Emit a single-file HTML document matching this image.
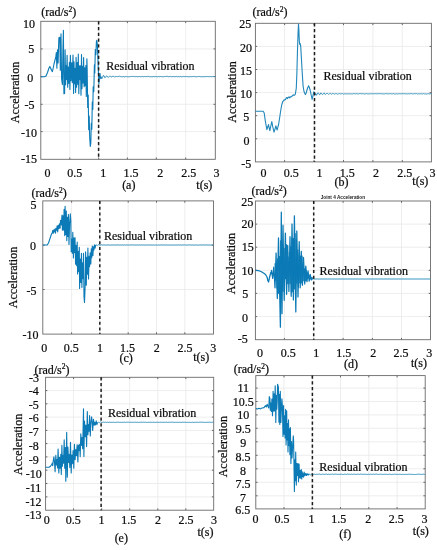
<!DOCTYPE html>
<html lang="en">
<head>
<meta charset="utf-8">
<title>Acceleration and residual vibration</title>
<style>
html, body { margin: 0; padding: 0; background: #fff; }
body { width: 437px; height: 550px; overflow: hidden; font-family: "Liberation Serif", serif; }
svg { display: block; }
</style>
</head>
<body>
<svg width="437" height="550" viewBox="0 0 437 550" font-family="'Liberation Serif', serif" fill="#0c0c0c" stroke="#0c0c0c" stroke-width="0.22">
<rect width="437" height="550" fill="#fff" stroke="none"/>
<g>
<path d="M69.8 21.3 V159.3M98.7 21.3 V159.3M127.4 21.3 V159.3M156.3 21.3 V159.3M185.7 21.3 V159.3M40.8 48.9 H215.3M40.8 76.6 H215.3M40.8 104.3 H215.3M40.8 131.6 H215.3" stroke="#e8e8e8" stroke-width="0.8" fill="none"/>
<path d="M69.8 159.3 v-1.8 M69.8 21.3 v1.8M98.7 159.3 v-1.8 M98.7 21.3 v1.8M127.4 159.3 v-1.8 M127.4 21.3 v1.8M156.3 159.3 v-1.8 M156.3 21.3 v1.8M185.7 159.3 v-1.8 M185.7 21.3 v1.8M40.8 48.9 h1.8 M215.3 48.9 h-1.8M40.8 76.6 h1.8 M215.3 76.6 h-1.8M40.8 104.3 h1.8 M215.3 104.3 h-1.8M40.8 131.6 h1.8 M215.3 131.6 h-1.8" stroke="#444" stroke-width="0.8" fill="none"/>
<rect x="40.8" y="21.3" width="174.5" height="138.0" fill="none" stroke="#6a6a6a" stroke-width="0.9"/>
<path d="M40.8 76.8 L44.5 76.8 L46.0 76.0 L47.5 72.5 L49.0 68.0 L49.8 66.4 L50.6 68.0 L51.6 70.5 L52.4 71.6 L53.2 68.0 L54.0 64.0 L55.0 60.0 L55.8 57.2 L56.3 52.6 L56.9 68.3 L57.5 49.8 L58.1 63.0 L58.6 45.6 L58.9 37.8 L59.8 37.3 L60.3 70.2 L60.8 43.0 L61.0 33.9 L61.6 79.0 L62.4 84.6 L62.9 51.3 L63.4 30.3 L63.9 93.8 L64.6 93.5 L65.1 49.7 L65.6 84.7 L66.1 65.5 L66.6 79.4 L67.1 55.2 L67.7 87.2 L68.2 67.0 L68.8 83.3 L69.4 62.3 L69.9 89.5 L70.4 55.4 L71.0 80.8 L71.7 62.8 L72.3 82.6 L73.0 55.1 L73.6 93.4 L74.0 61.9 L74.5 83.6 L75.1 68.2 L75.6 92.4 L76.1 57.2 L76.6 87.3 L77.2 62.6 L77.9 84.4 L78.3 54.0 L78.8 93.7 L79.4 65.9 L79.9 79.5 L80.4 65.7 L81.0 95.3 L81.5 54.5 L82.0 88.6 L82.5 66.2 L83.1 82.9 L83.6 57.6 L84.1 86.7 L84.8 67.9 L85.2 85.8 L85.8 65.5 L86.3 96.5 L86.9 58.8 L87.2 70.7 L87.7 107.4 L88.2 95.1 L88.7 129.8 L89.2 116.0 L89.7 137.5 L90.3 146.4 L90.8 143.1 L91.3 123.4 L91.8 129.2 L92.3 102.1 L92.8 109.5 L93.2 86.8 L93.8 91.8 L94.4 64.9 L94.8 72.9 L95.3 49.5 L95.9 54.7 L96.4 41.6 L96.8 40.2 L97.3 44.0 L97.8 56.0 L98.4 72.0 L98.9 83.6 L99.4 78.0 L99.9 73.2 L100.5 77.5 L101.0 79.0" stroke="#0b7ab6" stroke-width="1.1" fill="none" stroke-linejoin="round"/>
<path d="M101.0 79.0 L101.2 76.7 L101.9 78.7 L102.6 77.4 L103.3 75.5 L104.0 75.7 L104.7 77.6 L105.4 77.5 L106.1 76.4 L106.8 75.8 L107.5 76.5 L108.2 77.5 L108.9 76.8 L109.6 76.1 L110.3 76.0 L111.0 76.8 L111.7 77.1 L112.4 76.4 L113.1 76.1 L113.8 76.4 L114.5 77.1 L115.2 76.9 L115.9 76.3 L116.6 76.5 L117.3 76.5 L118.0 76.9 L118.7 76.4 L119.4 76.2 L120.1 76.7 L120.8 76.5 L121.5 76.6 L122.2 76.8 L122.9 76.7 L123.6 76.5 L124.3 76.9 L125.0 76.6 L125.7 76.6 L126.4 76.4 L127.1 76.9 L127.8 76.7 L128.5 76.8 L129.2 76.8 L129.9 76.5 L130.6 76.6 L131.3 76.4 L132.0 76.4 L132.7 76.4 L133.4 76.5 L134.1 76.7 L134.8 76.4 L135.5 76.7 L136.2 76.5 L136.9 76.5 L137.6 76.8 L138.3 76.6 L139.0 76.5 L139.7 76.6 L140.4 76.7 L141.1 76.4 L141.8 76.8 L142.5 76.4 L143.2 76.7 L143.9 76.8 L144.6 76.4 L145.3 76.7 L146.0 76.5 L146.7 76.6 L147.4 76.4 L148.1 76.4 L148.8 76.4 L149.5 76.8 L150.2 76.5 L150.9 76.7 L151.6 76.8 L152.3 76.8 L153.0 76.5 L153.7 76.5 L154.4 76.6 L155.1 76.7 L155.8 76.4 L156.5 76.7 L157.2 76.7 L157.9 76.8 L158.6 76.4 L159.3 76.8 L160.0 76.4 L160.7 76.5 L161.4 76.7 L162.1 76.8 L162.8 76.5 L163.5 76.8 L164.2 76.6 L164.9 76.5 L165.6 76.5 L166.3 76.4 L167.0 76.4 L167.7 76.4 L168.4 76.7 L169.1 76.8 L169.8 76.4 L170.5 76.4 L171.2 76.8 L171.9 76.6 L172.6 76.6 L173.3 76.5 L174.0 76.6 L174.7 76.8 L175.4 76.6 L176.1 76.6 L176.8 76.4 L177.5 76.8 L178.2 76.4 L178.9 76.6 L179.6 76.8 L180.3 76.4 L181.0 76.7 L181.7 76.8 L182.4 76.7 L183.1 76.7 L183.8 76.4 L184.5 76.6 L185.2 76.4 L185.9 76.8 L186.6 76.5 L187.3 76.6 L188.0 76.8 L188.7 76.8 L189.4 76.8 L190.1 76.6 L190.8 76.6 L191.5 76.7 L192.2 76.6 L192.9 76.5 L193.6 76.6 L194.3 76.4 L195.0 76.5 L195.7 76.8 L196.4 76.8 L197.1 76.7 L197.8 76.6 L198.5 76.5 L199.2 76.4 L199.9 76.5 L200.6 76.7 L201.3 76.8 L202.0 76.5 L202.7 76.7 L203.4 76.7 L204.1 76.7 L204.8 76.7 L205.5 76.7 L206.2 76.5 L206.9 76.7 L207.6 76.5 L208.3 76.6 L209.0 76.7 L209.7 76.7 L210.4 76.5 L211.1 76.8 L211.8 76.7 L212.5 76.6 L213.2 76.4 L213.9 76.6 L214.6 76.5 L215.2 76.6" stroke="#2f8fbd" stroke-width="0.95" fill="none" stroke-linejoin="round"/>
<path d="M98.6 21.3 V159.3" stroke="#1c1c1c" stroke-width="1.5" stroke-dasharray="3.1 2.65" fill="none"/>
<text x="29.1" y="28.2" text-anchor="middle" font-size="12">10</text>
<text x="31.3" y="53.3" text-anchor="middle" font-size="12">5</text>
<text x="30.2" y="81.9" text-anchor="middle" font-size="12">0</text>
<text x="29.5" y="109.3" text-anchor="middle" font-size="12">-5</text>
<text x="29.0" y="136.7" text-anchor="middle" font-size="12">-10</text>
<text x="29.0" y="162.6" text-anchor="middle" font-size="12">-15</text>
<text x="47.4" y="176.5" text-anchor="middle" font-size="12">0</text>
<text x="74.8" y="176.5" text-anchor="middle" font-size="12">0.5</text>
<text x="103.2" y="176.5" text-anchor="middle" font-size="12">1</text>
<text x="131.0" y="176.5" text-anchor="middle" font-size="12">1.5</text>
<text x="160.3" y="176.5" text-anchor="middle" font-size="12">2</text>
<text x="188.7" y="176.5" text-anchor="middle" font-size="12">2.5</text>
<text x="216.4" y="176.5" text-anchor="middle" font-size="12">3</text>
<text transform="translate(19.3 92.5) rotate(-90)" text-anchor="middle" font-size="12">Acceleration</text>
<text x="41.2" y="16.0" text-anchor="start" font-size="12">(rad/s<tspan font-size="7.5" dy="-4.5">2</tspan><tspan dy="4.5">)</tspan></text>
<text x="106.2" y="70.0" text-anchor="start" font-size="12">Residual vibration</text>
<text x="128.8" y="189.1" text-anchor="middle" font-size="12">(a)</text>
<text x="204.3" y="189.3" text-anchor="middle" font-size="12">t(s)</text>
</g>
<g>
<path d="M284.6 23.3 V161.9M314.0 23.3 V161.9M343.5 23.3 V161.9M372.9 23.3 V161.9M402.3 23.3 V161.9M255.4 46.4 H431.4M255.4 69.5 H431.4M255.4 92.6 H431.4M255.4 115.7 H431.4M255.4 138.8 H431.4" stroke="#e8e8e8" stroke-width="0.8" fill="none"/>
<path d="M284.6 161.9 v-1.8 M284.6 23.3 v1.8M314.0 161.9 v-1.8 M314.0 23.3 v1.8M343.5 161.9 v-1.8 M343.5 23.3 v1.8M372.9 161.9 v-1.8 M372.9 23.3 v1.8M402.3 161.9 v-1.8 M402.3 23.3 v1.8M255.4 46.4 h1.8 M431.4 46.4 h-1.8M255.4 69.5 h1.8 M431.4 69.5 h-1.8M255.4 92.6 h1.8 M431.4 92.6 h-1.8M255.4 115.7 h1.8 M431.4 115.7 h-1.8M255.4 138.8 h1.8 M431.4 138.8 h-1.8" stroke="#444" stroke-width="0.8" fill="none"/>
<rect x="255.4" y="23.3" width="176.0" height="138.6" fill="none" stroke="#6a6a6a" stroke-width="0.9"/>
<path d="M255.4 111.2 L263.2 111.2 L264.2 113.0 L265.3 121.0 L266.9 129.7 L267.7 127.0 L268.5 124.6 L269.2 128.0 L269.9 130.6 L270.8 126.0 L271.8 121.6 L272.8 127.0 L274.0 132.2 L275.0 129.0 L275.9 125.8 L276.6 128.5 L277.2 130.0 L277.9 127.0 L278.6 124.5 L279.6 118.0 L280.8 110.0 L281.8 104.5 L282.7 102.0 L282.7 101.5 L283.4 101.1 L284.1 99.9 L284.8 99.9 L285.5 99.5 L286.2 98.0 L286.9 97.5 L287.6 98.6 L288.3 97.3 L289.0 96.9 L289.7 97.9 L290.4 96.7 L291.1 97.0 L291.8 96.0 L292.5 96.0 L293.2 94.8 L293.9 95.3 L294.6 95.3 L295.3 94.3 L296.3 88.0 L296.9 72.5 L297.5 50.0 L298.1 32.0 L298.5 24.0 L298.9 30.0 L299.3 41.0 L299.7 44.5 L300.1 43.5 L300.7 46.0 L301.5 60.0 L302.3 74.0 L303.1 86.1 L304.0 91.5 L305.3 94.6 L306.0 93.5 L306.7 91.0 L307.6 88.0 L308.6 85.8 L309.4 87.5 L310.5 91.6 L311.4 96.0 L312.1 99.4 L312.9 96.0 L313.8 91.8 L314.8 93.2 L315.6 95.0" stroke="#2187ba" stroke-width="1.1" fill="none" stroke-linejoin="round"/>
<path d="M315.6 95.0 L315.8 93.7 L316.5 95.3 L317.2 93.9 L317.9 92.7 L318.6 93.2 L319.3 94.6 L320.0 94.6 L320.7 93.0 L321.4 93.2 L322.1 94.3 L322.8 94.5 L323.5 93.5 L324.2 92.9 L324.9 94.1 L325.6 94.3 L326.3 93.7 L327.0 93.0 L327.7 93.6 L328.4 94.3 L329.1 94.2 L329.8 93.3 L330.5 93.4 L331.2 94.0 L331.9 94.3 L332.6 93.4 L333.3 93.5 L334.0 93.9 L334.7 94.2 L335.4 93.7 L336.1 93.5 L336.8 93.8 L337.5 94.2 L338.2 94.0 L338.9 93.6 L339.6 93.6 L340.3 93.8 L341.0 94.1 L341.7 93.6 L342.4 93.5 L343.1 94.1 L343.8 94.0 L344.5 93.8 L345.2 93.8 L345.9 93.7 L346.6 93.9 L347.3 94.0 L348.0 93.5 L348.7 93.9 L349.4 93.8 L350.1 93.9 L350.8 93.8 L351.5 93.9 L352.2 94.0 L352.9 93.9 L353.6 93.6 L354.3 93.6 L355.0 93.8 L355.7 93.9 L356.4 93.6 L357.1 93.9 L357.8 93.8 L358.5 93.9 L359.2 93.7 L359.9 93.6 L360.6 93.6 L361.3 93.8 L362.0 93.7 L362.7 93.7 L363.4 93.7 L364.1 94.0 L364.8 94.0 L365.5 93.7 L366.2 93.7 L366.9 93.7 L367.6 93.9 L368.3 94.0 L369.0 93.6 L369.7 93.9 L370.4 93.7 L371.1 93.6 L371.8 93.9 L372.5 93.7 L373.2 93.7 L373.9 93.8 L374.6 93.7 L375.3 93.7 L376.0 93.8 L376.7 93.8 L377.4 93.8 L378.1 93.7 L378.8 93.6 L379.5 93.6 L380.2 93.6 L380.9 93.8 L381.6 93.7 L382.3 93.9 L383.0 93.8 L383.7 93.9 L384.4 94.0 L385.1 93.6 L385.8 93.6 L386.5 93.7 L387.2 93.7 L387.9 93.8 L388.6 93.9 L389.3 93.7 L390.0 94.0 L390.7 93.6 L391.4 93.9 L392.1 93.7 L392.8 93.9 L393.5 93.6 L394.2 94.0 L394.9 93.9 L395.6 94.0 L396.3 93.8 L397.0 93.7 L397.7 94.0 L398.4 93.8 L399.1 93.6 L399.8 93.8 L400.5 93.8 L401.2 93.8 L401.9 93.7 L402.6 93.6 L403.3 93.8 L404.0 93.8 L404.7 93.6 L405.4 93.8 L406.1 93.9 L406.8 93.9 L407.5 93.8 L408.2 93.8 L408.9 93.7 L409.6 93.7 L410.3 93.7 L411.0 93.8 L411.7 93.6 L412.4 93.9 L413.1 93.9 L413.8 93.8 L414.5 93.6 L415.2 93.7 L415.9 93.8 L416.6 93.6 L417.3 94.0 L418.0 93.9 L418.7 93.8 L419.4 93.9 L420.1 93.7 L420.8 93.7 L421.5 93.8 L422.2 93.9 L422.9 93.9 L423.6 93.6 L424.3 93.8 L425.0 94.0 L425.7 93.9 L426.4 94.0 L427.1 94.0 L427.8 93.7 L428.5 93.7 L429.2 93.8 L429.9 94.0 L430.6 93.7 L431.3 94.0 L431.3 93.8" stroke="#2f8fbd" stroke-width="0.95" fill="none" stroke-linejoin="round"/>
<path d="M314.5 23.3 V161.9" stroke="#1c1c1c" stroke-width="1.5" stroke-dasharray="3.1 2.65" fill="none"/>
<text x="245.3" y="28.1" text-anchor="middle" font-size="12">25</text>
<text x="245.9" y="51.5" text-anchor="middle" font-size="12">20</text>
<text x="246.1" y="74.7" text-anchor="middle" font-size="12">15</text>
<text x="245.9" y="98.0" text-anchor="middle" font-size="12">10</text>
<text x="246.3" y="121.0" text-anchor="middle" font-size="12">5</text>
<text x="246.5" y="144.8" text-anchor="middle" font-size="12">0</text>
<text x="246.3" y="167.9" text-anchor="middle" font-size="12">-5</text>
<text x="263.4" y="176.7" text-anchor="middle" font-size="12">0</text>
<text x="291.3" y="176.7" text-anchor="middle" font-size="12">0.5</text>
<text x="319.6" y="176.7" text-anchor="middle" font-size="12">1</text>
<text x="347.3" y="176.7" text-anchor="middle" font-size="12">1.5</text>
<text x="375.9" y="176.7" text-anchor="middle" font-size="12">2</text>
<text x="404.8" y="176.7" text-anchor="middle" font-size="12">2.5</text>
<text x="432.6" y="176.7" text-anchor="middle" font-size="12">3</text>
<text transform="translate(235.6 92.0) rotate(-90)" text-anchor="middle" font-size="12">Acceleration</text>
<text x="252.4" y="16.4" text-anchor="start" font-size="12">(rad/s<tspan font-size="7.5" dy="-4.5">2</tspan><tspan dy="4.5">)</tspan></text>
<text x="323.4" y="79.8" text-anchor="start" font-size="12">Residual vibration</text>
<text x="341.4" y="185.7" text-anchor="middle" font-size="12">(b)</text>
<text x="420.3" y="185.3" text-anchor="middle" font-size="12">t(s)</text>
</g>
<g>
<path d="M71.6 200.9 V334.1M99.9 200.9 V334.1M128.2 200.9 V334.1M156.5 200.9 V334.1M184.8 200.9 V334.1M42.8 245.2 H213.5M42.8 289.5 H213.5" stroke="#e8e8e8" stroke-width="0.8" fill="none"/>
<path d="M71.6 334.1 v-1.8 M71.6 200.9 v1.8M99.9 334.1 v-1.8 M99.9 200.9 v1.8M128.2 334.1 v-1.8 M128.2 200.9 v1.8M156.5 334.1 v-1.8 M156.5 200.9 v1.8M184.8 334.1 v-1.8 M184.8 200.9 v1.8M42.8 245.2 h1.8 M213.5 245.2 h-1.8M42.8 289.5 h1.8 M213.5 289.5 h-1.8" stroke="#444" stroke-width="0.8" fill="none"/>
<rect x="42.8" y="200.9" width="170.7" height="133.2" fill="none" stroke="#6a6a6a" stroke-width="0.9"/>
<path d="M42.8 245.0 L47.2 245.0 L48.5 243.0 L50.0 238.5 L51.5 234.0 L52.4 232.6 L52.6 230.5 L53.2 233.5 L53.8 229.8 L54.3 231.9 L54.9 229.0 L55.5 233.2 L55.9 228.4 L56.6 230.3 L57.1 225.9 L57.7 231.9 L58.3 225.2 L58.9 228.8 L59.4 223.9 L60.1 228.2 L60.5 220.2 L61.2 224.9 L62.0 215.0 L62.4 230.3 L63.0 215.7 L63.6 230.1 L64.1 209.3 L64.7 235.6 L65.1 206.2 L65.7 234.6 L66.3 211.1 L66.8 240.7 L67.4 217.3 L67.8 236.5 L68.4 214.6 L69.0 244.4 L69.6 223.6 L70.3 213.8 L70.8 220.7 L71.2 251.8 L71.8 239.0 L72.3 253.2 L72.8 232.3 L73.4 257.9 L73.9 238.1 L74.5 252.6 L75.0 237.6 L75.6 264.2 L76.2 245.4 L76.7 265.7 L77.2 242.1 L77.6 273.9 L78.3 251.3 L78.8 271.6 L79.3 247.2 L79.6 288.5 L80.3 259.0 L80.9 282.5 L81.4 253.3 L81.9 287.6 L82.3 262.9 L83.0 278.6 L83.5 253.2 L84.0 296.5 L84.5 302.4 L85.1 287.2 L85.6 251.9 L86.3 285.3 L86.8 257.3 L87.3 274.2 L87.9 248.1 L88.5 278.9 L89.2 256.4 L89.6 266.6 L90.2 252.7 L90.8 264.0 L91.3 248.7 L91.7 257.8 L92.3 246.1 L92.9 255.6 L93.4 246.8 L93.9 250.3 L94.5 244.9 L95.1 248.2 L95.7 245.0" stroke="#0b7ab6" stroke-width="1.1" fill="none" stroke-linejoin="round"/>
<path d="M95.7 245.0 L96.5 245.0 L97.2 245.6 L97.9 244.9 L98.6 244.6 L99.3 244.9 L100.0 245.3 L100.7 245.1 L101.4 244.7 L102.1 245.0 L102.8 245.2 L103.5 244.9 L104.2 244.9 L104.9 245.0 L105.6 245.1 L106.3 245.1 L107.0 244.9 L107.7 244.9 L108.4 244.9 L109.1 245.0 L109.8 245.1 L110.5 245.0 L111.2 245.1 L111.9 245.0 L112.6 245.0 L113.3 244.9 L114.0 245.0 L114.7 245.0 L115.4 245.0 L116.1 245.0 L116.8 244.9 L117.5 244.9 L118.2 244.9 L118.9 244.9 L119.6 245.1 L120.3 244.9 L121.0 245.1 L121.7 245.1 L122.4 244.9 L123.1 245.0 L123.8 245.0 L124.5 244.9 L125.2 245.0 L125.9 245.1 L126.6 244.9 L127.3 245.0 L128.0 244.9 L128.7 245.0 L129.4 245.1 L130.1 244.9 L130.8 244.9 L131.5 244.9 L132.2 245.0 L132.9 244.9 L133.6 244.9 L134.3 245.0 L135.0 245.1 L135.7 245.0 L136.4 245.0 L137.1 245.0 L137.8 244.9 L138.5 245.0 L139.2 244.9 L139.9 245.0 L140.6 245.1 L141.3 244.9 L142.0 245.0 L142.7 245.0 L143.4 244.9 L144.1 244.9 L144.8 245.1 L145.5 245.1 L146.2 244.9 L146.9 245.0 L147.6 245.1 L148.3 244.9 L149.0 245.0 L149.7 244.9 L150.4 245.0 L151.1 245.0 L151.8 245.0 L152.5 245.1 L153.2 244.9 L153.9 245.0 L154.6 245.1 L155.3 245.0 L156.0 245.0 L156.7 245.0 L157.4 245.1 L158.1 245.0 L158.8 244.9 L159.5 245.1 L160.2 245.0 L160.9 245.0 L161.6 244.9 L162.3 245.0 L163.0 245.0 L163.7 244.9 L164.4 245.0 L165.1 244.9 L165.8 245.1 L166.5 244.9 L167.2 245.1 L167.9 245.1 L168.6 245.0 L169.3 245.1 L170.0 244.9 L170.7 245.1 L171.4 245.0 L172.1 244.9 L172.8 245.1 L173.5 245.0 L174.2 245.0 L174.9 245.1 L175.6 245.0 L176.3 245.0 L177.0 244.9 L177.7 245.1 L178.4 244.9 L179.1 244.9 L179.8 245.1 L180.5 244.9 L181.2 245.1 L181.9 245.1 L182.6 245.0 L183.3 244.9 L184.0 244.9 L184.7 244.9 L185.4 245.0 L186.1 245.0 L186.8 245.1 L187.5 245.0 L188.2 244.9 L188.9 245.0 L189.6 244.9 L190.3 244.9 L191.0 245.0 L191.7 245.0 L192.4 244.9 L193.1 245.0 L193.8 245.0 L194.5 245.1 L195.2 245.0 L195.9 245.1 L196.6 244.9 L197.3 245.1 L198.0 245.1 L198.7 245.1 L199.4 245.0 L200.1 244.9 L200.8 244.9 L201.5 245.0 L202.2 244.9 L202.9 245.0 L203.6 244.9 L204.3 245.1 L205.0 244.9 L205.7 244.9 L206.4 244.9 L207.1 245.0 L207.8 245.0 L208.5 245.0 L209.2 244.9 L209.9 245.0 L210.6 245.1 L211.3 245.0 L212.0 245.1 L212.7 244.9 L213.3 245.0" stroke="#2f8fbd" stroke-width="0.95" fill="none" stroke-linejoin="round"/>
<path d="M99.8 200.9 V334.1" stroke="#1c1c1c" stroke-width="1.5" stroke-dasharray="3.1 2.65" fill="none"/>
<text x="33.5" y="208.6" text-anchor="middle" font-size="12">5</text>
<text x="33.1" y="249.9" text-anchor="middle" font-size="12">0</text>
<text x="31.6" y="295.3" text-anchor="middle" font-size="12">-5</text>
<text x="30.5" y="338.8" text-anchor="middle" font-size="12">-10</text>
<text x="44.2" y="352.0" text-anchor="middle" font-size="12">0</text>
<text x="71.2" y="352.0" text-anchor="middle" font-size="12">0.5</text>
<text x="100.0" y="352.0" text-anchor="middle" font-size="12">1</text>
<text x="127.4" y="352.0" text-anchor="middle" font-size="12">1.5</text>
<text x="156.7" y="352.0" text-anchor="middle" font-size="12">2</text>
<text x="185.0" y="352.0" text-anchor="middle" font-size="12">2.5</text>
<text x="213.3" y="352.0" text-anchor="middle" font-size="12">3</text>
<text transform="translate(16.6 277.5) rotate(-90)" text-anchor="middle" font-size="12">Acceleration</text>
<text x="31.6" y="197.0" text-anchor="start" font-size="12">(rad/s<tspan font-size="7.5" dy="-4.5">2</tspan><tspan dy="4.5">)</tspan></text>
<text x="104.0" y="240.4" text-anchor="start" font-size="12">Residual vibration</text>
<text x="126.2" y="361.6" text-anchor="middle" font-size="12">(c)</text>
<text x="201.2" y="361.1" text-anchor="middle" font-size="12">t(s)</text>
</g>
<g>
<path d="M284.4 201.0 V339.7M313.8 201.0 V339.7M343.1 201.0 V339.7M372.4 201.0 V339.7M401.5 201.0 V339.7M255.4 224.1 H430.5M255.4 247.2 H430.5M255.4 270.3 H430.5M255.4 293.4 H430.5M255.4 316.6 H430.5" stroke="#e8e8e8" stroke-width="0.8" fill="none"/>
<path d="M284.4 339.7 v-1.8 M284.4 201.0 v1.8M313.8 339.7 v-1.8 M313.8 201.0 v1.8M343.1 339.7 v-1.8 M343.1 201.0 v1.8M372.4 339.7 v-1.8 M372.4 201.0 v1.8M401.5 339.7 v-1.8 M401.5 201.0 v1.8M255.4 224.1 h1.8 M430.5 224.1 h-1.8M255.4 247.2 h1.8 M430.5 247.2 h-1.8M255.4 270.3 h1.8 M430.5 270.3 h-1.8M255.4 293.4 h1.8 M430.5 293.4 h-1.8M255.4 316.6 h1.8 M430.5 316.6 h-1.8" stroke="#444" stroke-width="0.8" fill="none"/>
<rect x="255.4" y="201.0" width="175.1" height="138.7" fill="none" stroke="#6a6a6a" stroke-width="0.9"/>
<path d="M255.4 270.4 L258.5 270.6 L261.0 271.5 L263.5 273.0 L265.5 274.5 L267.0 277.0 L268.0 281.0 L268.6 282.0 L269.2 279.0 L270.0 275.5 L270.8 272.5 L271.3 273.5 L271.5 270.3 L272.7 278.3 L273.8 267.1 L275.0 287.8 L276.1 253.0 L277.3 298.5 L278.5 237.8 L280.4 327.2 L281.3 212.2 L282.0 313.7 L283.0 225.2 L284.2 300.3 L285.4 233.2 L286.6 294.3 L287.7 245.3 L288.9 291.4 L290.0 236.7 L291.2 296.3 L292.0 224.0 L293.4 299.9 L294.4 215.8 L295.8 311.9 L296.8 231.0 L298.0 297.0 L299.2 241.7 L300.2 287.8 L301.3 251.3 L302.4 285.3 L303.5 257.5 L304.7 284.0 L305.8 266.1 L307.0 281.7 L308.0 270.9 L309.2 281.1 L310.2 274.4 L311.3 280.0 L312.4 277.6" stroke="#0b7ab6" stroke-width="1.25" fill="none" stroke-linejoin="round"/>
<path d="M312.4 277.6 L313.5 279.0 L430.4 279.0" stroke="#2f8fbd" stroke-width="0.95" fill="none" stroke-linejoin="round"/>
<path d="M275.0 263.3 L275.7 280.5 L276.4 263.2 L277.1 288.5 L277.8 258.6 L278.6 293.6 L279.3 256.0 L280.1 295.0 L280.8 240.5 L281.6 291.8 L282.2 247.1 L283.0 291.6 L283.6 248.8 L284.3 283.1 L285.0 248.2 L285.7 279.1 L286.5 244.5 L287.2 284.1 L287.9 256.6 L288.6 278.7 L289.4 251.9 L290.0 283.9 L290.8 246.5 L291.4 292.5 L292.0 237.7 L292.8 292.1 L293.6 238.3 L294.2 289.3 L295.0 233.3 L295.6 297.6 L296.3 239.7 L296.9 283.4 L297.7 249.7 L298.5 287.4 L299.2 254.5 L299.9 283.1 L300.5 255.9 L301.2 283.4 L301.9 255.7 L302.7 280.5 L303.3 262.9 L304.0 281.2 L304.7 268.6 L305.3 281.3 L306.0 270.1 L306.6 280.6 L307.3 272.3 L308.0 278.5 L308.7 274.8 L309.5 278.9 L310.2 275.8 L310.9 279.4 L311.6 277.3 L312.3 279.4 L312.9 278.4" stroke="#0b7ab6" stroke-width="1" fill="none" stroke-linejoin="round"/>
<path d="M313.7 201.0 V339.7" stroke="#1c1c1c" stroke-width="1.5" stroke-dasharray="3.1 2.65" fill="none"/>
<text x="247.2" y="205.9" text-anchor="middle" font-size="12">25</text>
<text x="247.5" y="228.1" text-anchor="middle" font-size="12">20</text>
<text x="247.7" y="250.9" text-anchor="middle" font-size="12">15</text>
<text x="247.5" y="274.6" text-anchor="middle" font-size="12">10</text>
<text x="245.3" y="297.9" text-anchor="middle" font-size="12">5</text>
<text x="244.9" y="321.9" text-anchor="middle" font-size="12">0</text>
<text x="242.8" y="343.3" text-anchor="middle" font-size="12">-5</text>
<text x="260.0" y="356.8" text-anchor="middle" font-size="12">0</text>
<text x="288.3" y="356.8" text-anchor="middle" font-size="12">0.5</text>
<text x="316.2" y="356.8" text-anchor="middle" font-size="12">1</text>
<text x="343.8" y="356.8" text-anchor="middle" font-size="12">1.5</text>
<text x="373.2" y="356.8" text-anchor="middle" font-size="12">2</text>
<text x="401.1" y="356.8" text-anchor="middle" font-size="12">2.5</text>
<text x="429.3" y="356.8" text-anchor="middle" font-size="12">3</text>
<text transform="translate(234.6 263.6) rotate(-90)" text-anchor="middle" font-size="12">Acceleration</text>
<text x="251.6" y="195.0" text-anchor="start" font-size="12">(rad/s<tspan font-size="7.5" dy="-4.5">2</tspan><tspan dy="4.5">)</tspan></text>
<text x="319.6" y="274.7" text-anchor="start" font-size="12">Residual vibration</text>
<text x="351.0" y="368.4" text-anchor="middle" font-size="12">(d)</text>
<text x="418.9" y="366.9" text-anchor="middle" font-size="12">t(s)</text>
<text x="342.9" y="198.8" text-anchor="middle" font-size="4.7" font-weight="bold" font-family="'Liberation Sans', sans-serif" fill="#222" stroke="none">Joint 4 Acceleration</text>
</g>
<g>
<path d="M73.6 377.3 V510.2M101.7 377.3 V510.2M129.7 377.3 V510.2M157.8 377.3 V510.2M185.8 377.3 V510.2M45.6 390.6 H213.7M45.6 403.8 H213.7M45.6 417.1 H213.7M45.6 430.4 H213.7M45.6 443.6 H213.7M45.6 456.9 H213.7M45.6 470.2 H213.7M45.6 483.5 H213.7M45.6 496.9 H213.7" stroke="#e8e8e8" stroke-width="0.8" fill="none"/>
<path d="M73.6 510.2 v-1.8 M73.6 377.3 v1.8M101.7 510.2 v-1.8 M101.7 377.3 v1.8M129.7 510.2 v-1.8 M129.7 377.3 v1.8M157.8 510.2 v-1.8 M157.8 377.3 v1.8M185.8 510.2 v-1.8 M185.8 377.3 v1.8M45.6 390.6 h1.8 M213.7 390.6 h-1.8M45.6 403.8 h1.8 M213.7 403.8 h-1.8M45.6 417.1 h1.8 M213.7 417.1 h-1.8M45.6 430.4 h1.8 M213.7 430.4 h-1.8M45.6 443.6 h1.8 M213.7 443.6 h-1.8M45.6 456.9 h1.8 M213.7 456.9 h-1.8M45.6 470.2 h1.8 M213.7 470.2 h-1.8M45.6 483.5 h1.8 M213.7 483.5 h-1.8M45.6 496.9 h1.8 M213.7 496.9 h-1.8" stroke="#444" stroke-width="0.8" fill="none"/>
<rect x="45.6" y="377.3" width="168.1" height="132.9" fill="none" stroke="#6a6a6a" stroke-width="0.9"/>
<path d="M45.6 467.3 L49.0 467.3 L50.5 466.2 L52.0 464.0 L52.2 463.1 L52.7 465.8 L53.2 461.2 L53.9 456.9 L54.4 461.1 L55.1 471.8 L55.8 455.4 L56.5 464.9 L57.0 459.6 L57.5 467.9 L58.1 449.1 L58.8 473.0 L59.5 457.2 L60.1 468.3 L60.8 454.3 L61.3 474.5 L61.9 445.3 L62.4 466.2 L63.0 455.6 L63.5 463.2 L64.2 439.8 L64.7 468.3 L65.4 447.5 L65.8 481.3 L66.7 432.4 L67.3 477.2 L67.9 447.1 L68.7 462.4 L69.3 454.5 L69.8 467.6 L70.5 442.3 L71.2 473.0 L71.8 455.0 L72.4 463.6 L73.1 450.5 L73.8 468.2 L74.4 444.2 L75.1 459.6 L75.8 449.5 L76.5 455.8 L77.1 444.9 L77.9 462.0 L78.4 445.1 L79.0 450.8 L79.7 444.3 L80.2 456.6 L80.8 433.7 L81.4 445.4 L82.0 437.6 L82.7 448.8 L83.5 408.7 L83.9 456.4 L84.5 421.0 L85.2 436.7 L85.9 425.1 L86.6 446.6 L87.3 411.5 L87.9 434.7 L88.6 424.6 L89.1 431.2 L89.6 415.6 L90.3 435.9 L90.8 423.9 L91.6 416.9 L92.1 421.1 L92.7 430.4 L93.5 419.4 L94.2 425.3 L94.7 422.3 L95.4 424.9 L96.2 420.9 L96.9 424.6 L97.6 422.4" stroke="#0b7ab6" stroke-width="1.1" fill="none" stroke-linejoin="round"/>
<path d="M97.6 422.4 L98.5 422.3 L99.2 422.8 L99.9 422.3 L100.6 421.9 L101.3 422.4 L102.0 422.6 L102.7 422.3 L103.4 422.1 L104.1 422.3 L104.8 422.3 L105.5 422.2 L106.2 422.4 L106.9 422.4 L107.6 422.2 L108.3 422.4 L109.0 422.3 L109.7 422.3 L110.4 422.3 L111.1 422.3 L111.8 422.3 L112.5 422.3 L113.2 422.3 L113.9 422.2 L114.6 422.4 L115.3 422.4 L116.0 422.4 L116.7 422.3 L117.4 422.2 L118.1 422.2 L118.8 422.2 L119.5 422.4 L120.2 422.3 L120.9 422.3 L121.6 422.4 L122.3 422.3 L123.0 422.3 L123.7 422.3 L124.4 422.2 L125.1 422.3 L125.8 422.4 L126.5 422.2 L127.2 422.2 L127.9 422.3 L128.6 422.2 L129.3 422.3 L130.0 422.4 L130.7 422.3 L131.4 422.3 L132.1 422.4 L132.8 422.2 L133.5 422.3 L134.2 422.3 L134.9 422.3 L135.6 422.2 L136.3 422.4 L137.0 422.2 L137.7 422.2 L138.4 422.4 L139.1 422.4 L139.8 422.3 L140.5 422.3 L141.2 422.2 L141.9 422.2 L142.6 422.3 L143.3 422.2 L144.0 422.2 L144.7 422.3 L145.4 422.2 L146.1 422.3 L146.8 422.4 L147.5 422.4 L148.2 422.3 L148.9 422.3 L149.6 422.3 L150.3 422.2 L151.0 422.4 L151.7 422.3 L152.4 422.3 L153.1 422.2 L153.8 422.3 L154.5 422.3 L155.2 422.3 L155.9 422.4 L156.6 422.3 L157.3 422.2 L158.0 422.3 L158.7 422.4 L159.4 422.3 L160.1 422.3 L160.8 422.2 L161.5 422.3 L162.2 422.3 L162.9 422.3 L163.6 422.3 L164.3 422.3 L165.0 422.3 L165.7 422.3 L166.4 422.2 L167.1 422.3 L167.8 422.4 L168.5 422.3 L169.2 422.2 L169.9 422.2 L170.6 422.3 L171.3 422.2 L172.0 422.2 L172.7 422.2 L173.4 422.3 L174.1 422.4 L174.8 422.3 L175.5 422.3 L176.2 422.3 L176.9 422.3 L177.6 422.3 L178.3 422.4 L179.0 422.4 L179.7 422.3 L180.4 422.3 L181.1 422.3 L181.8 422.4 L182.5 422.2 L183.2 422.2 L183.9 422.3 L184.6 422.3 L185.3 422.3 L186.0 422.3 L186.7 422.4 L187.4 422.3 L188.1 422.4 L188.8 422.4 L189.5 422.3 L190.2 422.4 L190.9 422.4 L191.6 422.4 L192.3 422.2 L193.0 422.4 L193.7 422.4 L194.4 422.4 L195.1 422.4 L195.8 422.2 L196.5 422.3 L197.2 422.2 L197.9 422.3 L198.6 422.4 L199.3 422.2 L200.0 422.3 L200.7 422.2 L201.4 422.2 L202.1 422.2 L202.8 422.2 L203.5 422.4 L204.2 422.4 L204.9 422.3 L205.6 422.4 L206.3 422.3 L207.0 422.3 L207.7 422.3 L208.4 422.3 L209.1 422.3 L209.8 422.2 L210.5 422.3 L211.2 422.3 L211.9 422.3 L212.6 422.2 L213.3 422.3 L213.6 422.3" stroke="#2f8fbd" stroke-width="0.95" fill="none" stroke-linejoin="round"/>
<path d="M101.1 377.3 V510.2" stroke="#1c1c1c" stroke-width="1.5" stroke-dasharray="3.1 2.65" fill="none"/>
<text x="33.9" y="382.4" text-anchor="middle" font-size="12">-3</text>
<text x="33.8" y="395.4" text-anchor="middle" font-size="12">-4</text>
<text x="33.8" y="408.6" text-anchor="middle" font-size="12">-5</text>
<text x="33.7" y="422.1" text-anchor="middle" font-size="12">-6</text>
<text x="33.7" y="436.1" text-anchor="middle" font-size="12">-7</text>
<text x="33.7" y="450.1" text-anchor="middle" font-size="12">-8</text>
<text x="33.7" y="464.3" text-anchor="middle" font-size="12">-9</text>
<text x="33.7" y="478.2" text-anchor="middle" font-size="12">-10</text>
<text x="33.5" y="492.0" text-anchor="middle" font-size="12">-11</text>
<text x="33.5" y="505.6" text-anchor="middle" font-size="12">-12</text>
<text x="33.5" y="519.1" text-anchor="middle" font-size="12">-13</text>
<text x="46.8" y="524.1" text-anchor="middle" font-size="12">0</text>
<text x="73.3" y="524.1" text-anchor="middle" font-size="12">0.5</text>
<text x="101.6" y="524.1" text-anchor="middle" font-size="12">1</text>
<text x="128.8" y="524.1" text-anchor="middle" font-size="12">1.5</text>
<text x="158.0" y="524.1" text-anchor="middle" font-size="12">2</text>
<text x="186.0" y="524.1" text-anchor="middle" font-size="12">2.5</text>
<text x="214.0" y="524.1" text-anchor="middle" font-size="12">3</text>
<text transform="translate(22.0 444.5) rotate(-90)" text-anchor="middle" font-size="12">Acceleration</text>
<text x="34.4" y="373.8" text-anchor="start" font-size="12">(rad/s<tspan font-size="7.5" dy="-4.5">2</tspan><tspan dy="4.5">)</tspan></text>
<text x="108.0" y="416.8" text-anchor="start" font-size="12">Residual vibration</text>
<text x="121.3" y="541.9" text-anchor="middle" font-size="12">(e)</text>
<text x="205.4" y="535.5" text-anchor="middle" font-size="12">t(s)</text>
</g>
<g>
<path d="M284.0 375.6 V508.9M312.2 375.6 V508.9M340.5 375.6 V508.9M368.8 375.6 V508.9M397.1 375.6 V508.9M255.8 388.1 H425.2M255.8 401.5 H425.2M255.8 414.9 H425.2M255.8 428.3 H425.2M255.8 441.8 H425.2M255.8 455.3 H425.2M255.8 468.8 H425.2M255.8 482.3 H425.2M255.8 495.8 H425.2" stroke="#e8e8e8" stroke-width="0.8" fill="none"/>
<path d="M284.0 508.9 v-1.8 M284.0 375.6 v1.8M312.2 508.9 v-1.8 M312.2 375.6 v1.8M340.5 508.9 v-1.8 M340.5 375.6 v1.8M368.8 508.9 v-1.8 M368.8 375.6 v1.8M397.1 508.9 v-1.8 M397.1 375.6 v1.8M255.8 388.1 h1.8 M425.2 388.1 h-1.8M255.8 401.5 h1.8 M425.2 401.5 h-1.8M255.8 414.9 h1.8 M425.2 414.9 h-1.8M255.8 428.3 h1.8 M425.2 428.3 h-1.8M255.8 441.8 h1.8 M425.2 441.8 h-1.8M255.8 455.3 h1.8 M425.2 455.3 h-1.8M255.8 468.8 h1.8 M425.2 468.8 h-1.8M255.8 482.3 h1.8 M425.2 482.3 h-1.8M255.8 495.8 h1.8 M425.2 495.8 h-1.8" stroke="#444" stroke-width="0.8" fill="none"/>
<rect x="255.8" y="375.6" width="169.4" height="133.3" fill="none" stroke="#6a6a6a" stroke-width="0.9"/>
<path d="M255.9 408.6 L257.5 409.0 L259.0 408.3 L260.5 408.9 L262.0 408.0 L264.0 407.6 L265.5 405.5 L266.3 407.0 L267.2 404.2 L268.0 406.5 L268.8 408.0 L269.3 396.6 L269.9 398.5 L270.3 410.2 L270.8 403.0 L271.4 411.4 L271.9 399.0 L272.5 415.7 L273.1 391.4 L273.6 411.1 L274.2 393.9 L274.7 411.0 L275.2 385.7 L275.8 422.4 L276.3 395.4 L276.8 409.3 L277.2 401.5 L277.6 384.2 L278.4 386.8 L278.9 422.1 L279.4 394.3 L279.8 424.4 L280.3 391.4 L280.9 422.5 L281.4 407.9 L281.9 398.8 L282.4 406.0 L283.0 436.5 L283.6 405.6 L284.1 434.2 L284.6 415.7 L285.1 438.0 L285.6 409.4 L286.1 444.9 L286.7 410.8 L287.0 440.0 L287.5 423.5 L288.0 452.0 L288.5 419.7 L289.1 445.6 L289.5 428.7 L289.9 454.6 L290.4 427.5 L290.9 463.6 L291.5 441.6 L292.0 458.0 L292.6 447.8 L293.3 435.9 L293.6 440.2 L294.4 491.5 L294.7 459.9 L295.3 480.7 L295.7 452.0 L296.3 485.1 L296.9 463.3 L297.4 475.4 L298.0 463.5 L298.5 481.8 L299.1 464.1 L299.5 477.9 L300.1 470.2 L300.7 478.3 L301.3 469.6 L301.8 479.0 L302.2 471.9 L302.8 476.4 L303.2 473.7 L303.7 477.3 L304.1 472.1 L304.6 475.4 L305.0 473.2 L305.6 475.3 L306.1 473.8 L306.5 475.5 L307.1 473.7 L307.6 474.7 L308.1 474.1 L308.5 475.0 L309.1 473.9" stroke="#0b7ab6" stroke-width="1.1" fill="none" stroke-linejoin="round"/>
<path d="M309.1 473.9 L309.8 474.3 L310.5 474.8 L311.2 474.3 L311.9 473.9 L312.6 474.2 L313.3 474.4 L314.0 474.1 L314.7 474.3 L315.4 474.5 L316.1 474.4 L316.8 474.2 L317.5 474.3 L318.2 474.2 L318.9 474.3 L319.6 474.1 L320.3 474.5 L321.0 474.2 L321.7 474.4 L322.4 474.1 L323.1 474.4 L323.8 474.2 L324.5 474.3 L325.2 474.4 L325.9 474.1 L326.6 474.1 L327.3 474.5 L328.0 474.3 L328.7 474.1 L329.4 474.5 L330.1 474.5 L330.8 474.1 L331.5 474.3 L332.2 474.2 L332.9 474.2 L333.6 474.3 L334.3 474.2 L335.0 474.4 L335.7 474.1 L336.4 474.2 L337.1 474.4 L337.8 474.3 L338.5 474.3 L339.2 474.3 L339.9 474.3 L340.6 474.3 L341.3 474.1 L342.0 474.4 L342.7 474.5 L343.4 474.5 L344.1 474.4 L344.8 474.2 L345.5 474.2 L346.2 474.4 L346.9 474.4 L347.6 474.1 L348.3 474.2 L349.0 474.2 L349.7 474.3 L350.4 474.4 L351.1 474.3 L351.8 474.1 L352.5 474.4 L353.2 474.3 L353.9 474.3 L354.6 474.2 L355.3 474.3 L356.0 474.3 L356.7 474.4 L357.4 474.1 L358.1 474.3 L358.8 474.2 L359.5 474.4 L360.2 474.1 L360.9 474.2 L361.6 474.2 L362.3 474.4 L363.0 474.1 L363.7 474.3 L364.4 474.2 L365.1 474.2 L365.8 474.3 L366.5 474.5 L367.2 474.3 L367.9 474.5 L368.6 474.2 L369.3 474.5 L370.0 474.2 L370.7 474.2 L371.4 474.4 L372.1 474.5 L372.8 474.1 L373.5 474.2 L374.2 474.4 L374.9 474.2 L375.6 474.2 L376.3 474.1 L377.0 474.1 L377.7 474.3 L378.4 474.5 L379.1 474.5 L379.8 474.3 L380.5 474.1 L381.2 474.2 L381.9 474.4 L382.6 474.4 L383.3 474.4 L384.0 474.2 L384.7 474.3 L385.4 474.3 L386.1 474.4 L386.8 474.2 L387.5 474.5 L388.2 474.5 L388.9 474.2 L389.6 474.2 L390.3 474.4 L391.0 474.2 L391.7 474.5 L392.4 474.3 L393.1 474.4 L393.8 474.4 L394.5 474.2 L395.2 474.2 L395.9 474.2 L396.6 474.4 L397.3 474.4 L398.0 474.2 L398.7 474.5 L399.4 474.3 L400.1 474.2 L400.8 474.3 L401.5 474.5 L402.2 474.3 L402.9 474.3 L403.6 474.5 L404.3 474.5 L405.0 474.4 L405.7 474.3 L406.4 474.3 L407.1 474.5 L407.8 474.4 L408.5 474.3 L409.2 474.2 L409.9 474.2 L410.6 474.4 L411.3 474.3 L412.0 474.1 L412.7 474.4 L413.4 474.5 L414.1 474.4 L414.8 474.5 L415.5 474.5 L416.2 474.3 L416.9 474.4 L417.6 474.3 L418.3 474.1 L419.0 474.2 L419.7 474.2 L420.4 474.5 L421.1 474.4 L421.8 474.3 L422.5 474.3 L423.2 474.1 L423.9 474.3 L424.6 474.4 L425.1 474.3" stroke="#2f8fbd" stroke-width="0.95" fill="none" stroke-linejoin="round"/>
<path d="M312.4 375.6 V508.9" stroke="#1c1c1c" stroke-width="1.5" stroke-dasharray="3.1 2.65" fill="none"/>
<text x="243.3" y="392.1" text-anchor="middle" font-size="12">11</text>
<text x="243.3" y="405.7" text-anchor="middle" font-size="12">10.5</text>
<text x="243.3" y="419.1" text-anchor="middle" font-size="12">10</text>
<text x="243.2" y="432.8" text-anchor="middle" font-size="12">9.5</text>
<text x="243.2" y="446.7" text-anchor="middle" font-size="12">9</text>
<text x="243.0" y="461.1" text-anchor="middle" font-size="12">8.5</text>
<text x="243.1" y="474.7" text-anchor="middle" font-size="12">8</text>
<text x="243.1" y="488.0" text-anchor="middle" font-size="12">7.5</text>
<text x="243.1" y="501.5" text-anchor="middle" font-size="12">7</text>
<text x="242.8" y="514.1" text-anchor="middle" font-size="12">6.5</text>
<text x="255.6" y="523.4" text-anchor="middle" font-size="12">0</text>
<text x="282.0" y="523.4" text-anchor="middle" font-size="12">0.5</text>
<text x="311.6" y="523.4" text-anchor="middle" font-size="12">1</text>
<text x="338.8" y="523.4" text-anchor="middle" font-size="12">1.5</text>
<text x="368.3" y="523.4" text-anchor="middle" font-size="12">2</text>
<text x="396.2" y="523.4" text-anchor="middle" font-size="12">2.5</text>
<text x="424.4" y="523.4" text-anchor="middle" font-size="12">3</text>
<text transform="translate(226.6 446.7) rotate(-90)" text-anchor="middle" font-size="12">Acceleration</text>
<text x="233.8" y="373.0" text-anchor="start" font-size="12">(rad/s<tspan font-size="7.5" dy="-4.5">2</tspan><tspan dy="4.5">)</tspan></text>
<text x="319.3" y="470.9" text-anchor="start" font-size="12">Residual vibration</text>
<text x="345.2" y="537.5" text-anchor="middle" font-size="12">(f)</text>
<text x="420.8" y="534.7" text-anchor="middle" font-size="12">t(s)</text>
</g>
</svg>
</body>
</html>
